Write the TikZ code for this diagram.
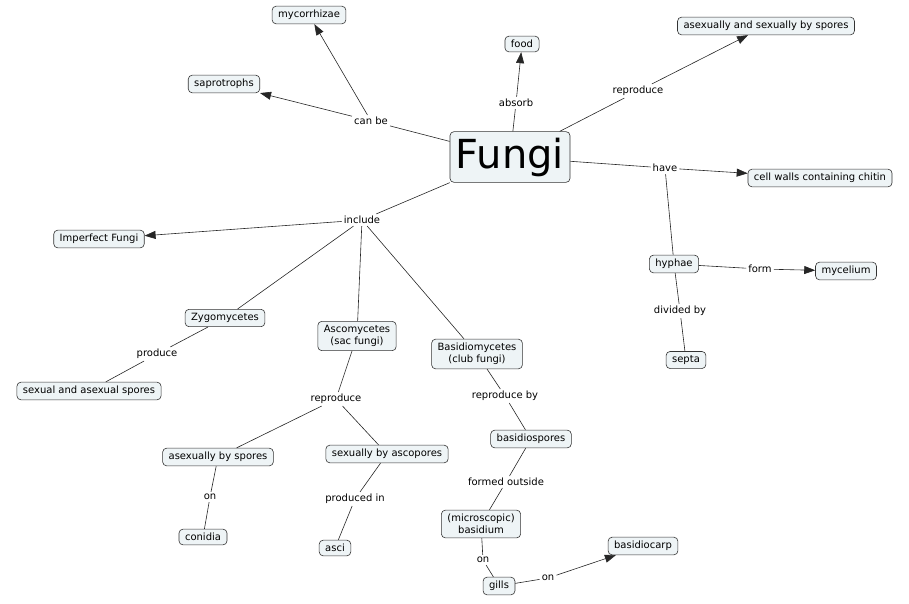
\documentclass[tikz,border=0pt]{standalone}
\usepackage{fontspec}
\setmainfont{DejaVu Sans}
\usetikzlibrary{arrows.meta}
\begin{document}
\begin{tikzpicture}[x=1pt,y=-1pt,
  box/.style={draw=black!80,fill=cbox,rounded corners=4pt,inner xsep=6pt,inner ysep=4pt,align=center,font=\fontsize{10}{12}\selectfont,line width=0.6pt},
  lab/.style={inner sep=2pt,font=\fontsize{10}{12}\selectfont,fill=white},
  ln/.style={line width=0.6pt,black!85},
  ar/.style={ln,-{Triangle[length=11pt,width=8pt]}}]
\definecolor{cbox}{HTML}{EEF4F6}
\useasboundingbox (0,0) rectangle (909,603);
\node[box] (myc) at (309,15) {mycorrhizae};
\node[box] (food) at (522,44) {food};
\node[box] (asx) at (766,26) {asexually and sexually by spores};
\node[box] (sap) at (224,84) {saprotrophs};
\node[box,font=\fontsize{40}{46}\selectfont,inner ysep=6pt] (fungi) at (510,157) {Fungi};
\node[box] (cell) at (820,178) {cell walls containing chitin};
\node[box] (imp) at (99,239) {Imperfect Fungi};
\node[box] (hyp) at (674,264) {hyphae};
\node[box] (myce) at (846,271) {mycelium};
\node[box] (zyg) at (225,318) {Zygomycetes};
\node[box] (asco) at (357,336) {Ascomycetes\\(sac fungi)};
\node[box] (basi) at (477,354) {Basidiomycetes\\(club fungi)};
\node[box] (sept) at (686,360) {septa};
\node[box] (sas) at (89,391) {sexual and asexual spores};
\node[box] (bsp) at (531,439) {basidiospores};
\node[box] (aby) at (218,457) {asexually by spores};
\node[box] (sby) at (387,454) {sexually by ascopores};
\node[box] (bdm) at (481,524) {(microscopic)\\basidium};
\node[box] (con) at (203,537) {conidia};
\node[box] (asci) at (335,548) {asci};
\node[box] (bcarp) at (643,546) {basidiocarp};
\node[box] (gill) at (499,586) {gills};

\node[lab] (canbe) at (371,121) {can be};
\node[lab] (abs) at (516,103) {absorb};
\node[lab] (rep) at (638,91) {reproduce};
\node[lab] (have) at (665,168) {have};
\node[lab] (inc) at (362,220) {include};
\node[lab] (form) at (760,269) {form};
\node[lab] (div) at (680,311) {divided by};
\node[lab] (prod) at (157,354) {produce};
\node[lab] (rep2) at (336,399) {reproduce};
\node[lab] (repby) at (505,396) {reproduce by};
\node[lab] (on1) at (210,497) {on};
\node[lab] (pin) at (355,499) {produced in};
\node[lab] (fout) at (506,482) {formed outside};
\node[lab] (on2) at (483,560) {on};
\node[lab] (on3) at (548,578) {on};

\draw[ln] (fungi) -- (canbe); \draw[ar] (canbe) -- (myc); \draw[ar] (canbe) -- (sap);
\draw[ln] (fungi) -- (abs); \draw[ar] (abs) -- (food);
\draw[ln] (fungi) -- (rep); \draw[ar] (rep) -- (asx);
\draw[ln] (fungi) -- (have); \draw[ar] (have) -- (cell); \draw[ln] (have) -- (hyp);
\draw[ln] (fungi) -- (inc); \draw[ar] (inc) -- (imp);
\draw[ln] (inc) -- (zyg); \draw[ln] (inc) -- (asco); \draw[ln] (inc) -- (basi);
\draw[ln] (hyp) -- (form); \draw[ar] (form) -- (myce);
\draw[ln] (hyp) -- (div); \draw[ln] (div) -- (sept);
\draw[ln] (zyg) -- (prod); \draw[ln] (prod) -- (sas);
\draw[ln] (asco) -- (rep2); \draw[ln] (rep2) -- (aby); \draw[ln] (rep2) -- (sby);
\draw[ln] (basi) -- (repby); \draw[ln] (repby) -- (bsp);
\draw[ln] (aby) -- (on1); \draw[ln] (on1) -- (con);
\draw[ln] (sby) -- (pin); \draw[ln] (pin) -- (asci);
\draw[ln] (bsp) -- (fout); \draw[ln] (fout) -- (bdm);
\draw[ln] (bdm) -- (on2); \draw[ln] (on2) -- (gill);
\draw[ln] (gill) -- (on3); \draw[ar] (on3) -- (bcarp);
\end{tikzpicture}
\end{document}
